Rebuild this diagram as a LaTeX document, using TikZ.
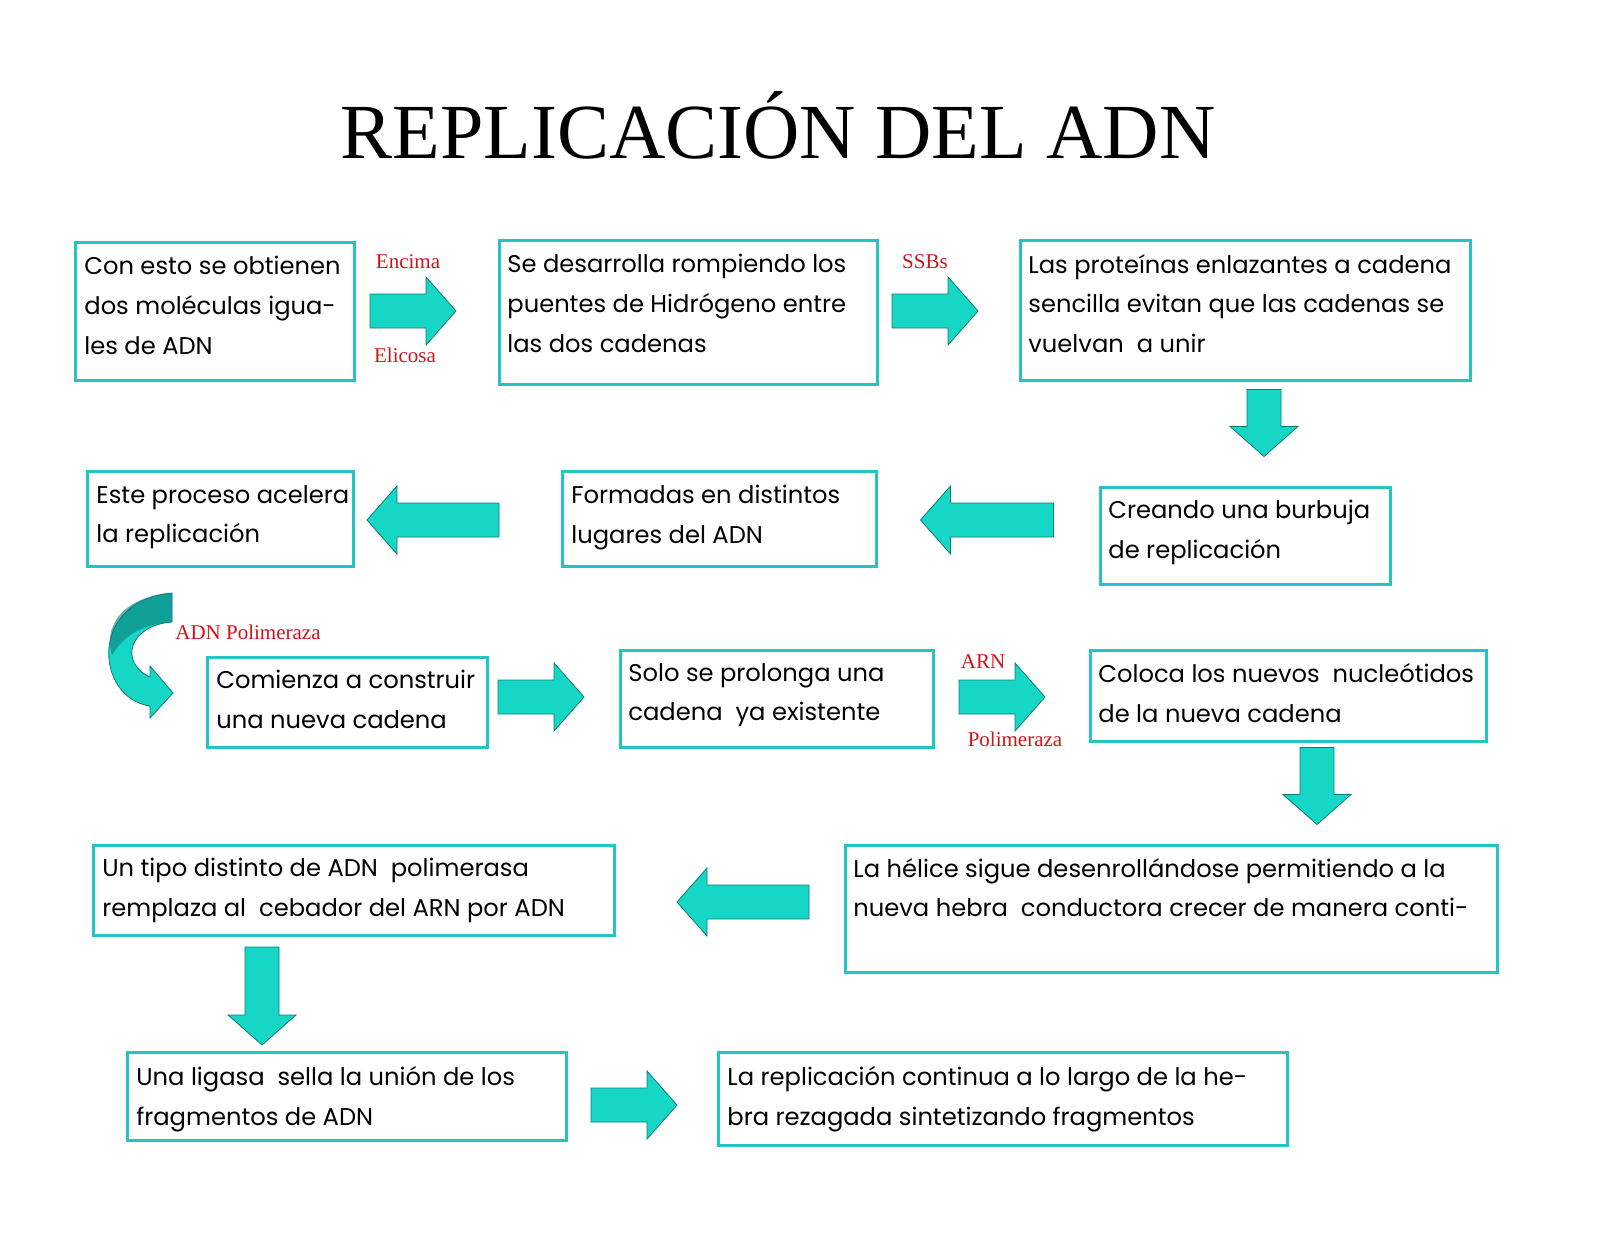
\documentclass[tikz,border=0pt]{standalone}
\usepackage{fontspec}
\setmainfont{Poppins}
\newfontfamily\rs{Liberation Serif}
\definecolor{boxc}{HTML}{22C4C4}
\definecolor{arrf}{HTML}{16D6C6}
\definecolor{arrd}{HTML}{0E7C78}
\definecolor{lab}{HTML}{D0141A}
\begin{document}
\begin{tikzpicture}[x=0.5pt,y=-0.5pt,
 box/.style={draw=boxc,line width=1.5pt},
 txt/.style={anchor=north west,align=left,font=\fontsize{12.1}{19.8}\selectfont,inner sep=0pt},
 lbl/.style={text=lab,font=\rs\fontsize{10.5}{12}\selectfont,inner sep=0pt},
 blk/.pic={\path[fill=arrf,draw=arrd,line width=0.4pt] (-#1/2,-17) -- (#1/2-30,-17) -- (#1/2-30,-34) -- (#1/2,0) -- (#1/2-30,34) -- (#1/2-30,17) -- (-#1/2,17) -- cycle;},
]
\useasboundingbox (0,0) rectangle (1600,1236);
\node[font=\rs\fontsize{39}{41}\selectfont] (title) at (778,125) {REPLICACIÓN DEL ADN};
% boxes
\draw[box] (75,242) rectangle (354,380);
\node[txt] (t1) at (84,256) {Con esto se obtienen\\dos moléculas igua-\\les de ADN};
\draw[box] (499,240) rectangle (877,384);
\node[txt] (t2) at (507,254) {Se desarrolla rompiendo los\\puentes de Hidrógeno entre\\las dos cadenas};
\draw[box] (1020,240) rectangle (1470,380);
\node[txt] (t3) at (1028,254) {Las proteínas enlazantes a cadena\\sencilla evitan que las cadenas se\\vuelvan~ a unir};
\draw[box] (1100,487) rectangle (1390,584);
\node[txt] (t4) at (1108,500) {Creando una burbuja\\de replicación};
\draw[box] (562,471) rectangle (876,566);
\node[txt] (t5) at (571,485) {Formadas en distintos\\lugares del ADN};
\draw[box] (87,471) rectangle (353,566);
\node[txt] (t6) at (96,485) {Este proceso acelera\\la replicación};
\draw[box] (207,657) rectangle (487,747);
\node[txt] (t7) at (216,670) {Comienza a construir\\una nueva cadena};
\draw[box] (620,650) rectangle (933,747);
\node[txt] (t8) at (628,663) {Solo se prolonga una\\cadena~ ya existente};
\draw[box] (1090,650) rectangle (1486,741);
\node[txt] (t9) at (1098,663) {Coloca los nuevos~ nucleótidos\\de la nueva cadena};
\draw[box] (845,845) rectangle (1497,972);
\node[txt] (t10) at (853,858) {La hélice sigue desenrollándose permitiendo a la\\nueva hebra~ conductora crecer de manera conti-};
\draw[box] (93,845) rectangle (614,935);
\node[txt] (t11) at (102,858) {Un tipo distinto de ADN~ polimerasa\\remplaza al~ cebador del ARN por ADN};
\draw[box] (127,1052) rectangle (566,1140);
\node[txt] (t12) at (136,1066) {Una ligasa~ sella la unión de los\\fragmentos de ADN};
\draw[box] (718,1052) rectangle (1287,1145);
\node[txt] (t13) at (727,1066) {La replicación continua a lo largo de la he-\\bra rezagada sintetizando fragmentos};
% arrows
\pic at (413,311) {blk=86};
\pic at (935,311) {blk=86};
\pic[rotate=-90] at (1264,423) {blk=67};
\pic[rotate=180] at (987,520) {blk=133};
\pic[rotate=180] at (433,520) {blk=132};
\pic at (541,697) {blk=86};
\pic at (1002,697) {blk=86};
\pic[rotate=-90] at (1317,786) {blk=77};
\pic[rotate=180] at (743,902) {blk=132};
\pic[rotate=-90] at (262,996) {blk=98};
\pic at (634,1105) {blk=86};
% curved arrow
\path[fill=arrf,draw=arrd,line width=0.4pt] (172,593) -- (172,622) .. controls (130,625) and (118,662) .. (150,677) -- (150,666) -- (173,693) -- (150,718) -- (150,706) .. controls (95,698) and (88,600) .. (172,593) -- cycle;
\fill[arrd,opacity=0.6] (172,593) -- (172,622) .. controls (140,624) and (122,638) .. (112,655) .. controls (102,620) and (130,596) .. (172,593) -- cycle;
% labels
\node[lbl] (l1) at (408,262) {Encima};
\node[lbl] (l2) at (405,355) {Elicosa};
\node[lbl] (l3) at (925,262) {SSBs};
\node[lbl] (l4) at (248,632) {ADN Polimeraza};
\node[lbl] (l5) at (983,662) {ARN};
\node[lbl] (l6) at (1015,739) {Polimeraza};
\end{tikzpicture}
\end{document}
